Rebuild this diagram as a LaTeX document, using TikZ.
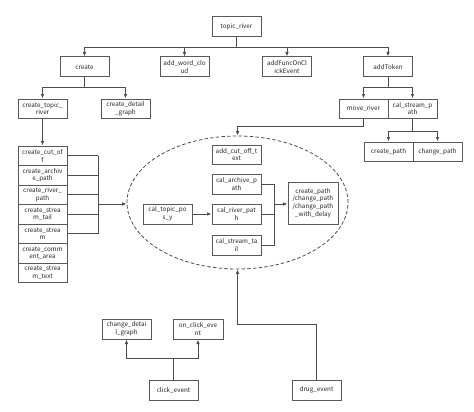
\documentclass[tikz,border=0pt]{standalone}
\usepackage{fontspec}
\setmainfont{Noto Sans CJK SC}
\usetikzlibrary{arrows.meta,shapes.geometric}
\begin{document}
\begin{tikzpicture}[x=1pt,y=-1pt,
  box/.style={draw=black!65, line width=1pt, fill=white, inner sep=0pt, align=center,
    minimum width=49pt, minimum height=20pt, font=\fontsize{6.3}{7.8}\selectfont, text=black!85},
  ln/.style={draw=black!70, line width=1pt},
  arr/.style={ln, -{Latex[length=4.5pt,width=3.6pt]}}]
\useasboundingbox (0,0) rectangle (474,412);
% top level
\node[box] (topic) at (236.5,27) {topic\_river};
\node[box] (create) at (84.5,67) {create};
\node[box] (addword) at (184.5,67) {add\_word\_clo\\ud};
\node[box] (addfunc) at (287,67) {addFuncOnCl\\ickEvent};
\node[box] (addtoken) at (388,67) {addToken};
\foreach \n in {create,addword,addfunc,addtoken}
  \draw[arr] (topic.south) -- ++(0,10) -| (\n.north);
% create children
\node[box,minimum height=19pt] (ctr) at (42.5,108.5) {create\_topic\_\\river};
\node[box,minimum height=19pt] (cdg) at (125.5,108.5) {create\_detail\\\_graph};
\draw[arr] (create.south) -- ++(0,10) -| (ctr.north);
\draw[arr] (create.south) -- ++(0,10) -| (cdg.north);
% addToken children
\node[box,minimum height=19pt] (mriver) at (363.5,108.5) {move\_river};
\node[box,minimum height=19pt] (csp) at (412.5,108.5) {cal\_stream\_p\\ath};
\draw[arr] (addtoken.south) -- ++(0,10) -| (mriver.north);
\draw[arr] (addtoken.south) -- ++(0,10) -| (csp.north);
\node[box,minimum height=19pt] (cpath) at (388.5,151.5) {create\_path};
\node[box,minimum height=19pt] (chpath) at (437.5,151.5) {change\_path};
\draw[arr] (csp.south) -- ++(0,13) -| (cpath.north);
\draw[arr] (csp.south) -- ++(0,13) -| (chpath.north);
% left column
\node[box,minimum height=19.5pt] (l1) at (42.5,155.75) {create\_cut\_of\\f};
\node[box,minimum height=19.5pt] (l2) at (42.5,175.25) {create\_archiv\\e\_path};
\node[box,minimum height=19.5pt] (l3) at (42.5,194.75) {create\_river\_\\path};
\node[box,minimum height=19.5pt] (l4) at (42.5,214.25) {create\_strea\\m\_tail};
\node[box,minimum height=19.5pt] (l5) at (42.5,233.75) {create\_strea\\m};
\node[box,minimum height=19.5pt] (l6) at (42.5,253.25) {create\_comm\\ent\_area};
\node[box,minimum height=19.5pt] (l7) at (42.5,272.75) {create\_strea\\m\_text};
\draw[arr] (ctr.south) -- (l1.north);
% ellipse
\node[draw=black!70, line width=0.8pt, dash pattern=on 3.5pt off 2.2pt, ellipse, minimum width=221pt, minimum height=133pt, inner sep=0pt] (ell) at (237.5,202.5) {};
\draw[arr] (mriver.south) -- ++(0,8) -| (ell.north);
\coordinate (brk) at (98,204);
\foreach \n in {l1,l2,l3,l4,l5}
  \draw[ln] (\n.east) -- (\n.east -| brk);
\draw[ln] (l1.east -| brk) -- (l5.east -| brk);
\draw[arr] (brk) -- (brk -| ell.west);
% inside ellipse
\node[box,minimum height=19pt] (acot) at (236.5,154.5) {add\_cut\_off\_t\\ext};
\node[box] (cap) at (236.5,184) {cal\_archive\_p\\ath};
\node[box] (crp) at (236.5,214) {cal\_river\_pat\\h};
\node[box] (cst) at (236.5,245) {cal\_stream\_ta\\il};
\node[box] (ctp) at (167.5,214) {cal\_topic\_po\\s\_y};
\node[box,minimum width=50pt,minimum height=42pt] (combo) at (313,203) {create\_path\\/change\_path\\/change\_path\\\_with\_delay};
\draw[arr] (ctp.east) -- (crp.west);
\coordinate (m) at (274,204);
\draw[ln] (cap.east) -| (m);
\draw[ln] (cst.east) -| (m);
\draw[ln] (crp.east) -- (crp.east -| m);
\draw[arr] (m) -- (m -| combo.west);
% bottom
\node[box] (cdeg) at (126.5,329) {change\_detai\\l\_graph};
\node[box,minimum width=50pt] (oce) at (198,329) {on\_click\_eve\\nt};
\node[box] (ce) at (173.5,390) {click\_event};
\node[box] (de) at (316.5,390) {drug\_event};
\draw[arr] (ce.north) -- ++(0,-21) -| (cdeg.south);
\draw[arr] (ce.north) -- ++(0,-21) -| (oce.south);
\draw[arr] (de.north) -- ++(0,-55) -| (ell.south);
\end{tikzpicture}
\end{document}
